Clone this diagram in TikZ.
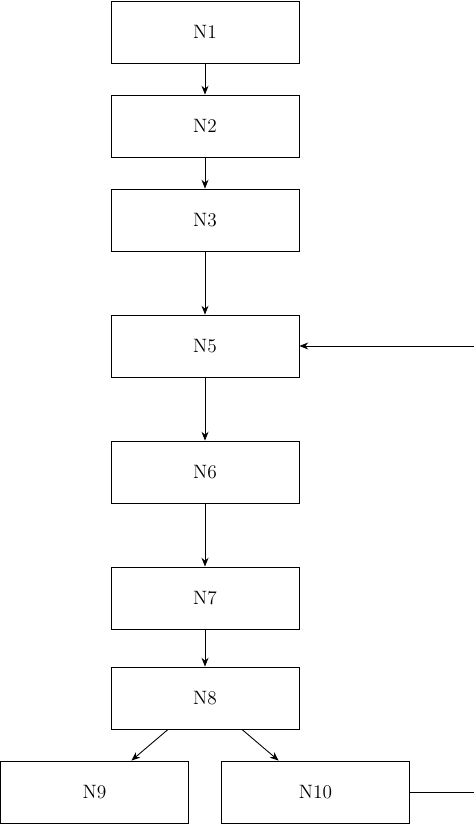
\documentclass[tikz,border=0pt]{standalone}
\usetikzlibrary{arrows.meta}
\begin{document}
\begin{tikzpicture}[x=0.02cm,y=-0.02cm,
  box/.style={draw,line width=0.5pt,rectangle,minimum width=3.76cm,minimum height=1.24cm,inner sep=0pt,font=\fontsize{11}{13}\selectfont},
  conn/.style={line width=0.5pt,-{Stealth[length=5pt,width=4pt]}},
  plain/.style={line width=0.5pt}]
\useasboundingbox (0,0) rectangle (474,824);
\node[box] (n1) at (205,32) {N1};
\node[box] (n2) at (205,126) {N2};
\node[box] (n3) at (205,220) {N3};
\node[box] (n5) at (205,346) {N5};
\node[box] (n6) at (205,472) {N6};
\node[box] (n7) at (205,598) {N7};
\node[box] (n8) at (205,698) {N8};
\node[box] (n9) at (94.5,792) {N9};
\node[box] (n10) at (315.5,792) {N10};
\coordinate (r5) at (474,346);
\coordinate (r10) at (474,792);
\draw[conn] (n1) -- (n2);
\draw[conn] (n2) -- (n3);
\draw[conn] (n3) -- (n5);
\draw[conn] (n5) -- (n6);
\draw[conn] (n6) -- (n7);
\draw[conn] (n7) -- (n8);
\draw[conn] (n8) -- (n9);
\draw[conn] (n8) -- (n10);
\draw[conn] (r5) -- (n5.east);
\draw[plain] (n10.east) -- (r10);
\end{tikzpicture}
\end{document}
